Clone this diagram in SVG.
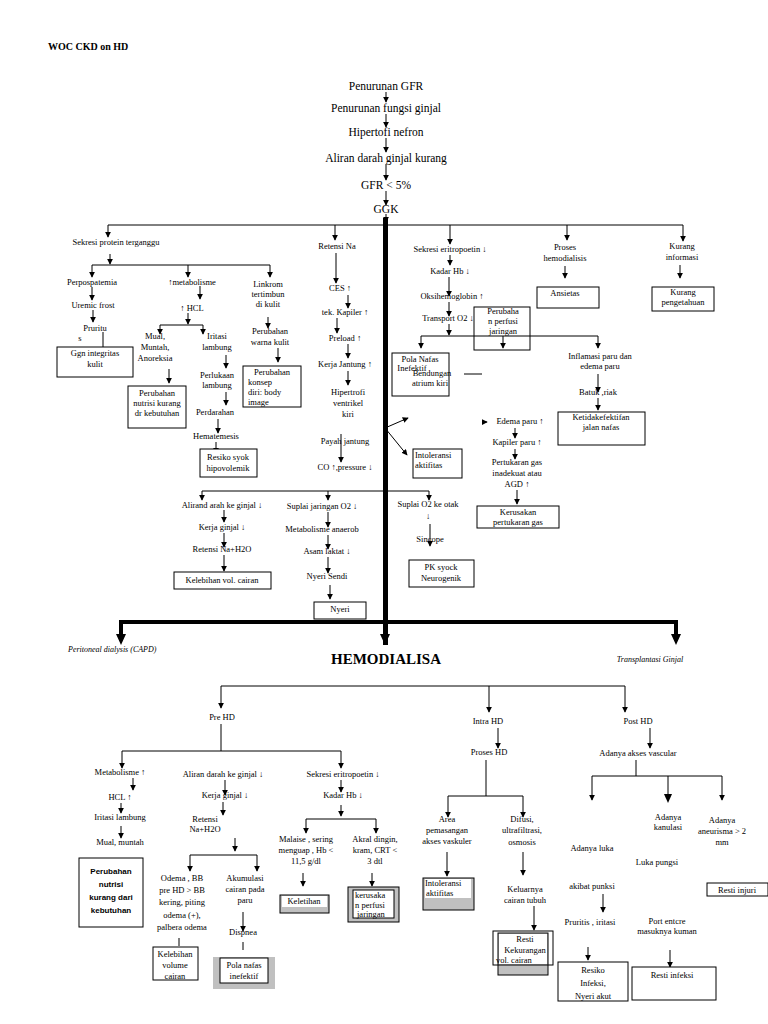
<svg xmlns="http://www.w3.org/2000/svg" width="768" height="1024" viewBox="0 0 768 1024">
<style>
text{font-family:"Liberation Serif",serif;font-size:8.5px;fill:#000;text-anchor:middle}
.l{text-anchor:start}
.big{font-size:11.5px}
.it{font-style:italic;font-size:8px}
.b{font-weight:bold}
.sb{font-family:"Liberation Sans",sans-serif;font-weight:bold;font-size:8px}
.box{fill:#fff;stroke:#000;stroke-width:1}
.nf{fill:none;stroke:#000;stroke-width:1}
.gb{fill:#c0c0c0;stroke:#000;stroke-width:1}
.ln{stroke:#000;stroke-width:1;fill:none}
.ar{stroke:#000;stroke-width:1;fill:none;marker-end:url(#a)}
.th{stroke:#000;stroke-width:4;fill:none}
</style>
<defs>
<marker id="a" viewBox="0 0 8 8" refX="7" refY="4" markerWidth="6" markerHeight="6" orient="auto" markerUnits="userSpaceOnUse"><path d="M0,0L8,4L0,8z" fill="#000"/></marker>
</defs>
<rect width="768" height="1024" fill="#fff"/>
<text x="48" y="50" class="l b" style="font-size:10px">WOC CKD on HD</text>

<g id="connectors">
<path class="ar" d="M386,92V102"/><path class="ar" d="M386,114V127"/><path class="ar" d="M386,138V152"/><path class="ar" d="M386,164V180"/><path class="ar" d="M386,191V205"/><path class="ar" d="M386,214V222"/>
<path class="ln" d="M108,225H683"/>
<rect x="383" y="218" width="5" height="427" fill="#000"/>
<path class="ar" d="M108,225V237"/><path class="ar" d="M335,225V240"/><path class="ar" d="M450,225V244"/><path class="ar" d="M567,225V240"/><path class="ar" d="M683,225V241"/>
<path class="ar" d="M110,254V264"/>
<path class="ln" d="M92,265H270"/>
<path class="ar" d="M92,265V277"/><path class="ar" d="M188,265V277"/><path class="ar" d="M270,265V277"/>
<path class="ar" d="M92,287V300"/><path class="ar" d="M93,310V322"/><path class="ar" d="M103,332V352"/>
<path class="ar" d="M200,286V299"/>
<path class="ar" d="M188,313V324"/>
<path class="ln" d="M160,325H203"/>
<path class="ar" d="M160,325V334"/><path class="ar" d="M203,325V334"/>
<path class="ar" d="M169,369V383"/>
<path class="ar" d="M226,355V368"/><path class="ar" d="M226,392V405"/><path class="ar" d="M218,419V433"/><path class="ar" d="M216,442V453"/>
<path class="ar" d="M268,317V328"/><path class="ar" d="M278,348V362"/>
<path class="ar" d="M336,253V283"/><path class="ar" d="M348,295V308"/><path class="ar" d="M337,318V333"/><path class="ar" d="M348,344V358"/><path class="ar" d="M348,371V385"/>
<path class="ln" d="M341,434V450"/>
<path class="ar" d="M341,450V462"/>
<path class="ar" d="M450,255V265"/><path class="ar" d="M449,277V296"/><path class="ar" d="M449,302V316"/><path class="ar" d="M449,324V335"/>
<path class="ln" d="M421,336H598"/><path class="ln" d="M464,374H482"/>
<path class="ar" d="M421,336V348"/><path class="ar" d="M503,336V348"/><path class="ar" d="M598,336V348"/>
<path class="ar" d="M598,374V392"/><path class="ar" d="M598,398V410"/>
<path class="ar" d="M565,266V278"/><path class="ar" d="M680,265V278"/>
<path class="ar" d="M385,428L408,418"/><path class="ar" d="M385,428L407,455"/>
<path class="ar" d="M482,422H487"/>
<path class="ar" d="M515,428V438"/><path class="ar" d="M515,449V459"/><path class="ar" d="M517,490V504"/>
<path class="ln" d="M202,491H429"/>
<path class="ar" d="M202,491V500"/><path class="ar" d="M328,491V500"/><path class="ar" d="M429,491V500"/>
<path class="ar" d="M224,510V522"/><path class="ar" d="M224,533V547"/><path class="ar" d="M224,555V571"/>
<path class="ar" d="M328,512V527"/><path class="ar" d="M328,535V549"/><path class="ar" d="M328,557V573"/><path class="ar" d="M330,585V599"/>
<path class="ar" d="M430,524V546"/>
<path class="th" d="M121,622H676M121,620V636M676,620V636"/>
<path d="M116,634L121,645L126,634z M380,634L385,645L390,634z M671,634L676,645L681,634z" fill="#000"/>
<path class="ln" d="M221,686H625"/>
<path class="ar" d="M221,686V708"/><path class="ar" d="M489,686V712"/><path class="ar" d="M625,686V712"/>
<path class="ln" d="M221,724V751M122,751H341"/>
<path class="ar" d="M122,751V768"/><path class="ar" d="M341,751V768"/>
<path class="ar" d="M133,778V790"/><path class="ar" d="M121,803V813"/><path class="ar" d="M121,826V838"/>
<path class="ar" d="M225,780V795"/><path class="ar" d="M223,802V815"/><path class="ar" d="M235,838V851"/>
<path class="ln" d="M190,855H257"/>
<path class="ar" d="M190,855V871"/><path class="ar" d="M257,855V871"/>
<path class="ln" d="M179,938V946"/><path class="ln" d="M243,942V950"/>
<path class="ar" d="M243,912V931"/>
<path class="ar" d="M341,780V792"/><path class="ar" d="M341,805V816"/>
<path class="ln" d="M306,819H376"/>
<path class="ar" d="M306,819V833"/><path class="ar" d="M376,819V833"/>
<path class="ar" d="M303,873V886"/><path class="ar" d="M372,873V886"/>
<path class="ar" d="M498,728V748"/>
<path class="ln" d="M486,760V796M448,796H523"/>
<path class="ar" d="M448,796V817"/><path class="ar" d="M523,796V817"/>
<path class="ar" d="M447,852V876"/><path class="ar" d="M523,852V875"/><path class="ar" d="M534,906V930"/>
<path class="ar" d="M650,728V748"/>
<path class="ln" d="M636,760V776M592,776H722"/>
<path class="ar" d="M592,776V800"/><path class="ar" d="M722,776V800"/>
<path class="ln" d="M668,776V795" stroke-width="1.5"/>
<path d="M664,794L668,803L672,794z" fill="#000"/>
<path class="ar" d="M603,894V912"/><path class="ar" d="M588,947V960"/><path class="ar" d="M670,950V967"/>
</g>

<g id="top">
<text x="386" y="90" class="big">Penurunan GFR</text>
<text x="386" y="112" class="big">Penurunan fungsi ginjal</text>
<text x="386" y="136" class="big">Hipertofi nefron</text>
<text x="386" y="162" class="big">Aliran darah ginjal kurang</text>
<text x="386" y="189" class="big">GFR &lt; 5%</text>
<text x="386" y="213" class="big">GGK</text>
</g>

<g id="left">
<text x="116" y="245">Sekresi protein terganggu</text>
<text x="92" y="285">Perpospatemia</text>
<text x="93" y="308">Uremic frost</text>
<text x="95" y="331">Pruritu</text>
<text x="80" y="341">s</text>
<g id="ggn"><rect class="box" x="57" y="347" width="76" height="30"/><text x="95" y="356">Ggn integritas</text><text x="95" y="367">kulit</text></g>
<text x="192" y="285">↑metabolisme</text>
<text x="192" y="311">↑ HCL</text>
<text x="155" y="339">Mual,</text><text x="155" y="350">Muntah,</text><text x="155" y="361">Anoreksia</text>
<g id="nutrisi1"><rect class="box" x="128" y="386" width="58" height="42"/><text x="157" y="396">Perubahan</text><text x="157" y="406">nutrisi kurang</text><text x="157" y="416">dr kebutuhan</text></g>
<text x="217" y="339">Iritasi</text><text x="217" y="350">lambung</text>
<text x="217" y="378">Perlukaan</text><text x="217" y="388">lambung</text>
<text x="215" y="415">Perdarahan</text>
<text x="216" y="439">Hematemesis</text>
<g id="syok"><rect class="box" x="200" y="449" width="57" height="28"/><text x="228" y="460">Resiko syok</text><text x="228" y="471">hipovolemik</text></g>
<text x="268" y="287">Linkrom</text><text x="268" y="297">tertimbun</text><text x="268" y="307">di kulit</text>
<text x="270" y="334">Perubahan</text><text x="270" y="345">warna kulit</text>
<g id="konsep"><rect class="box" x="243" y="366" width="58" height="41"/><text x="272" y="375">Perubahan</text><text x="248" y="385" class="l">konsep</text><text x="248" y="395" class="l">diri:     body</text><text x="248" y="405" class="l">image</text></g>
<text x="337" y="249">Retensi Na</text>
<text x="340" y="291">CES ↑</text>
<text x="345" y="315">tek. Kapiler ↑</text>
<text x="345" y="341">Preload ↑</text>
<text x="345" y="367">Kerja Jantung ↑</text>
<text x="348" y="395">Hipertrofi</text><text x="348" y="406">ventrikel</text><text x="348" y="417">kiri</text>
<text x="345" y="444">Payah jantung</text>
<text x="345" y="470">CO ↑,pressure ↓</text>
</g>

<g id="right">
<text x="450" y="252">Sekresi eritropoetin ↓</text>
<text x="450" y="274">Kadar Hb ↓</text>
<text x="452" y="299">Oksihemoglobin ↑</text>
<text x="448" y="321">Transport O2 ↓</text>
<g id="perfusi"><rect class="nf" x="474" y="307" width="56" height="43"/><text x="503" y="314">Perubaha</text><text x="503" y="324">n perfusi</text><text x="503" y="334">jaringan</text></g>
<g id="pola"><rect class="nf" x="392" y="353" width="57" height="43"/><text x="420" y="362">Pola Nafas</text><text x="412" y="371">Inefektif</text><text x="432" y="376">Bendungan</text><text x="430" y="386">atrium kiri</text></g>
<text x="600" y="359">Inflamasi paru dan</text><text x="600" y="369">edema paru</text>
<text x="598" y="395">Batuk ,riak</text>
<g id="jalan"><rect class="box" x="558" y="412" width="87" height="33"/><text x="601" y="420">Ketidakefektifan</text><text x="601" y="430">jalan nafas</text></g>
<text x="565" y="250">Proses</text><text x="565" y="261">hemodialisis</text>
<g id="ansietas"><rect class="box" x="537" y="287" width="62" height="21"/><text x="565" y="296">Ansietas</text></g>
<text x="682" y="249">Kurang</text><text x="682" y="260">informasi</text>
<g id="pengetahuan"><rect class="box" x="652" y="287" width="62" height="24"/><text x="683" y="295">Kurang</text><text x="683" y="305">pengetahuan</text></g>
<g id="intol1"><rect class="box" x="413" y="449" width="49" height="29"/><text x="415" y="458" class="l">Intoleransi</text><text x="415" y="468" class="l">aktifitas</text></g>
<text x="520" y="424">Edema paru ↑</text>
<text x="517" y="445">Kapiler paru ↑</text>
<text x="517" y="465">Pertukaran gas</text><text x="517" y="476">inadekuat atau</text><text x="517" y="487">AGD ↑</text>
<g id="kerusakan"><rect class="box" x="477" y="506" width="82" height="22"/><text x="518" y="515">Kerusakan</text><text x="518" y="525">pertukaran gas</text></g>
</g>

<g id="lowerleft">
<text x="222" y="508">Alirand arah ke ginjal ↓</text>
<text x="222" y="530">Kerja ginjal ↓</text>
<text x="222" y="552">Retensi Na+H2O</text>
<g id="kelebihan1"><rect class="box" x="174" y="572" width="97" height="17"/><text x="222" y="583">Kelebihan vol. cairan</text></g>
<text x="322" y="509">Suplai jaringan O2 ↓</text>
<text x="322" y="532">Metabolisme anaerob</text>
<text x="327" y="554">Asam laktat ↓</text>
<text x="327" y="579">Nyeri Sendi</text>
<g id="nyeri"><rect class="box" x="314" y="602" width="52" height="17"/><text x="340" y="612">Nyeri</text></g>
<text x="428" y="507">Suplai O2 ke otak</text><text x="428" y="519">↓</text>
<text x="430" y="542">Sincope</text>
<g id="pk"><rect class="box" x="409" y="560" width="65" height="27"/><text x="441" y="570">PK syock</text><text x="441" y="581">Neurogenik</text></g>
</g>

<g id="therapy">
<text x="68" y="652" class="l it">Peritoneal dialysis (CAPD)</text>
<text x="386" y="664" class="b" style="font-size:15px">HEMODIALISA</text>
<text x="650" y="662" class="it">Transplantasi Ginjal</text>
<text x="222" y="720">Pre HD</text>
<text x="488" y="724">Intra HD</text>
<text x="638" y="724">Post HD</text>
</g>

<g id="prehd">
<text x="120" y="775">Metabolisme ↑</text>
<text x="120" y="800">HCL ↑</text>
<text x="120" y="820">Iritasi lambung</text>
<text x="120" y="845">Mual, muntah</text>
<g id="nutrisi2"><rect class="box" x="79" y="858" width="64" height="69"/><text x="111" y="874" class="sb">Perubahan</text><text x="111" y="887" class="sb">nutrisi</text><text x="111" y="900" class="sb">kurang dari</text><text x="111" y="913" class="sb">kebutuhan</text></g>
<text x="223" y="777">Aliran darah ke ginjal ↓</text>
<text x="225" y="798">Kerja ginjal ↓</text>
<text x="205" y="822">Retensi</text><text x="205" y="832">Na+H2O</text>
<text x="182" y="881">Odema , BB</text><text x="182" y="893">pre HD &gt; BB</text><text x="182" y="905">kering, piting</text><text x="182" y="918">odema (+),</text><text x="182" y="930">palbera odema</text>
<g id="kelebihan2"><rect class="box" x="153" y="947" width="45" height="33"/><text x="175" y="957">Kelebihan</text><text x="175" y="968">volume</text><text x="175" y="979">cairan</text></g>
<text x="245" y="881">Akumulasi</text><text x="245" y="892">cairan pada</text><text x="245" y="903">paru</text>
<text x="243" y="935">Dispnea</text>
<g id="pola2"><rect x="213" y="957" width="62" height="32" fill="#c0c0c0"/><rect class="box" x="220" y="958" width="48" height="25"/><text x="244" y="968">Pola nafas</text><text x="244" y="979">inefektif</text></g>
<text x="343" y="777">Sekresi eritropoetin ↓</text>
<text x="343" y="798">Kadar Hb ↓</text>
<text x="306" y="842">Malaise , sering</text><text x="306" y="853">menguap , Hb &lt;</text><text x="306" y="864">11,5 g/dl</text>
<g id="keletihan"><rect class="gb" x="280" y="895" width="49" height="18"/><rect x="282" y="896" width="45" height="11" fill="#fff"/><text x="304" y="904">Keletihan</text></g>
<text x="375" y="842">Akral dingin,</text><text x="375" y="853">kram, CRT &lt;</text><text x="375" y="864">3 dtl</text>
<g id="perfusi2"><rect class="gb" x="348" y="887" width="51" height="35"/><rect class="box" x="353" y="890" width="41" height="28"/><text x="355" y="898" class="l">kerusaka</text><text x="355" y="908" class="l">n perfusi</text><text x="357" y="917" class="l">jaringan</text></g>
</g>

<g id="intrahd">
<text x="489" y="755">Proses HD</text>
<text x="447" y="822">Area</text><text x="447" y="833">pemasangan</text><text x="447" y="844">akses vaskuler</text>
<g id="intol2"><rect class="gb" x="423" y="878" width="51" height="32"/><rect x="425" y="879" width="46" height="19" fill="#fff"/><text x="425" y="886" class="l">Intoleransi</text><text x="426" y="896" class="l">aktifitas</text></g>
<text x="522" y="822">Difusi,</text><text x="522" y="833">ultrafiltrasi,</text><text x="522" y="845">osmosis</text>
<text x="525" y="892">Keluarnya</text><text x="525" y="903">cairan tubuh</text>
<g id="resti1"><rect class="gb" x="498" y="933" width="50" height="42"/><rect class="nf" x="493" y="931" width="60" height="34"/><rect x="499" y="934" width="48" height="30" fill="#fff"/><text x="525" y="942">Resti</text><text x="525" y="953">Kekurangan</text><text x="496" y="963" class="l">vol. cairan</text></g>
</g>

<g id="posthd">
<text x="638" y="756">Adanya akses vascular</text>
<text x="668" y="820">Adanya</text><text x="668" y="830">kanulasi</text>
<text x="722" y="823">Adanya</text><text x="722" y="834">aneurisma &gt; 2</text><text x="722" y="845">mm</text>
<text x="592" y="851">Adanya luka</text>
<text x="657" y="865">Luka pungsi</text>
<text x="592" y="889">akibat punksi</text>
<text x="590" y="925">Pruritis , iritasi</text>
<text x="667" y="924">Port entcre</text><text x="667" y="934">masuknya kuman</text>
<g id="resiko"><rect class="box" x="558" y="962" width="70" height="39"/><text x="593" y="973">Resiko</text><text x="593" y="986">Infeksi,</text><text x="593" y="999">Nyeri akut</text></g>
<g id="restiinf"><rect class="box" x="632" y="967" width="84" height="33"/><text x="672" y="978">Resti infeksi</text></g>
<g id="injuri"><rect class="box" x="707" y="883" width="61" height="13"/><text x="737" y="893">Resti injuri</text></g>
</g>
</svg>
